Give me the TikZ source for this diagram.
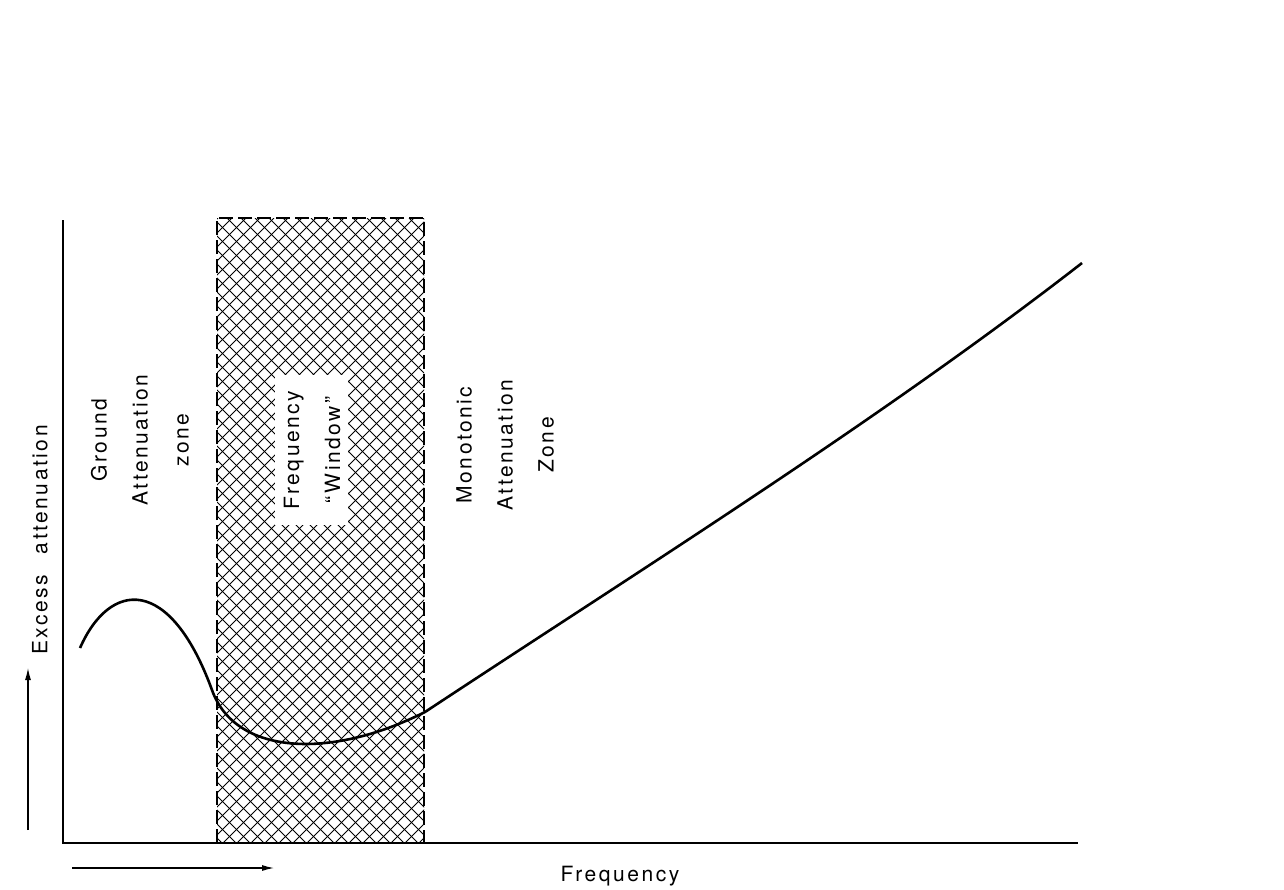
\documentclass[tikz,border=0pt]{standalone}
\usepackage{fontspec}
\usetikzlibrary{arrows.meta}
\setmainfont{TeX Gyre Heros}[LetterSpace=12]
\begin{document}
\begin{tikzpicture}[x=1pt,y=-1pt,
  lbl/.style={rotate=90,align=center,font=\fontsize{21}{41}\selectfont},
  ax/.style={line width=2.2pt},
  arr/.style={line width=1.2pt,-{Latex[length=12pt,width=6pt]}}]
\useasboundingbox (0,0) rectangle (1284,889);
% hatched band
\begin{scope}
\clip (217,218) rectangle (424,843);
\foreach \i in {-900,-886,...,700}{
  \draw[line width=0.8pt] (217+\i,218) -- ++(900,900);
  \draw[line width=0.8pt] (424-\i,218) -- ++(-900,900);
}
\end{scope}
\draw[dashed,line width=1.4pt,dash pattern=on 14pt off 5pt] (217,843) -- (217,218) -- (424,218) -- (424,843);
\fill[white] (275,375) rectangle (348,525);
% axes
\coordinate (O) at (63,843);
\coordinate (Y) at (63,220);
\coordinate (X) at (1078,843);
\draw[ax] (Y) -- (O) -- (X);
% curve
\coordinate (c0) at (80,648);
\coordinate (c1) at (425,712);
\coordinate (c2) at (1082,263);
\draw[line width=2.6pt] (c0) .. controls (110,580) and (170,575) .. (212,690)
  .. controls (235,755) and (330,760) .. (c1)
  .. controls (640,570) and (880,420) .. (c2);
% labels
\node[lbl] (g) at (140,440) {Ground\\Attenuation\\zone};
\node[lbl] (w) at (312,450) {Frequency\\``Window''};
\node[lbl] (m) at (505,445) {Monotonic\\Attenuation\\Zone};
\node[lbl] (ya) at (40,540) {Excess\quad attenuation};
\node[font=\fontsize{21}{27}\selectfont] (xa) at (620,876) {Frequency};
\coordinate (a1) at (28,830); \coordinate (a2) at (28,668);
\draw[arr] (a1) -- (a2);
\coordinate (b1) at (72,868); \coordinate (b2) at (274,868);
\draw[arr] (b1) -- (b2);
\end{tikzpicture}
\end{document}
